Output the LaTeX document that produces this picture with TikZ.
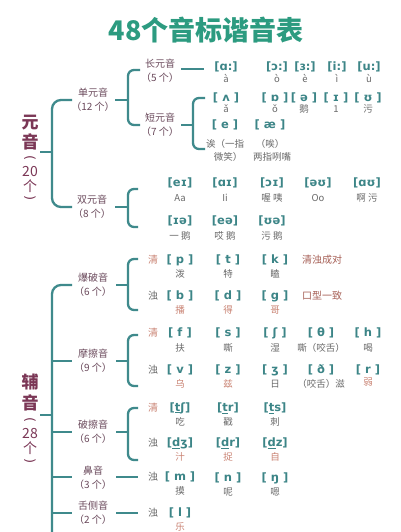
\documentclass[tikz,border=0pt]{standalone}
\usepackage{fontspec}
\setmainfont{DejaVu Sans}
\newfontfamily\cjk{Noto Sans CJK SC}
\definecolor{lineC}{HTML}{3F8A8C}
\definecolor{symC}{HTML}{3C8587}
\definecolor{labC}{HTML}{6B4A5C}
\definecolor{bigC}{HTML}{7B3756}
\definecolor{grayC}{HTML}{6A6A6A}
\definecolor{salC}{HTML}{C98272}
\definecolor{brC}{HTML}{A65F55}
\definecolor{titleC}{HTML}{2C9B80}
\tikzset{
  br/.style={draw=lineC, line width=2.3pt, rounded corners=6pt},
  lab/.style={text=labC, font=\cjk\fontsize{10}{14}\selectfont, align=center, inner sep=0pt},
  sym/.style={text=symC, font=\bfseries\fontsize{11.5}{12}\selectfont, inner sep=0pt},
  subg/.style={text=grayC, font=\cjk\fontsize{9.5}{11}\selectfont, inner sep=0pt},
  subs/.style={text=salC, font=\cjk\fontsize{9.5}{11}\selectfont, inner sep=0pt},
  qing/.style={text=salC, font=\cjk\fontsize{10}{11}\selectfont, inner sep=0pt},
  zhuo/.style={text=grayC, font=\cjk\fontsize{10}{11}\selectfont, inner sep=0pt},
  note/.style={text=brC, font=\cjk\fontsize{10}{11}\selectfont, inner sep=0pt},
  big/.style={text=bigC, font=\cjk\bfseries\fontsize{17}{17}\selectfont, inner sep=0pt},
  bigs/.style={text=bigC, font=\cjk\fontsize{14}{14}\selectfont, inner sep=0pt},
  par/.style={text=bigC, font=\fontsize{13}{13}\selectfont, inner sep=0pt, rotate=-90},
  ttl/.style={text=titleC, font=\cjk\bfseries\fontsize{27}{27}\selectfont, inner sep=0pt}
}
% name, x, y, symbol, substyle, subtext, suboffset
\newcommand\ph[7]{\node[sym] (#1) at (#2,#3) {#4};
  \node[#5] (#1s) at (#2,#3+#7) {#6};}
\begin{document}
\begin{tikzpicture}[x=1pt,y=-1pt]
\useasboundingbox[fill=white] (0,0) rectangle (400,532);
\node[ttl] (title) at (206,30) {48个音标谐音表};

% ---------- vowels ----------
\node[big] (v1) at (30,123) {元};
\node[big] (v2) at (30,142) {音};
\node[par] (v3) at (30,158) {(};
\node[bigs] (v4) at (30,172) {20};
\node[bigs] (v5) at (30,186) {个};
\node[par] (v6) at (30,198) {)};
\draw[br, rounded corners=9pt] (72,100) -- (52,100) -- (52,207) -- (72,207);
\draw[br] (40,152) -- (52,152);

\node[lab] (dan) at (93,100) {单元音\\（12 个）};
\draw[br] (115,100) -- (128,100);
\draw[br] (140,70) -- (128,70) -- (128,125) -- (140,125);
\node[lab] (chang) at (160,71) {长元音\\（5 个）};
\node[lab] (duan) at (160,125) {短元音\\（7 个）};
\draw[br] (181,69) -- (204,69);
\draw[br] (181,125) -- (193,125);
\draw[br] (205,98) -- (193,98) -- (193,149) -- (205,149);

\ph{a1}{226}{67}{[ɑ:]}{subg}{à}{11}
\ph{a2}{277}{67}{[ɔ:]}{subg}{ò}{11}
\ph{a3}{305}{67}{[ɜ:]}{subg}{è}{11}
\ph{a4}{337}{67}{[i:]}{subg}{ì}{11}
\ph{a5}{369}{67}{[u:]}{subg}{ù}{11}

\ph{b1}{226}{98}{[ ʌ ]}{subg}{ǎ}{11}
\ph{b2}{275}{98}{[ ɒ ]}{subg}{ǒ}{11}
\ph{b3}{304}{98}{[ ə ]}{subg}{鹅}{11}
\ph{b4}{336}{98}{[ ɪ ]}{subg}{1}{11}
\ph{b5}{368}{98}{[ ʊ ]}{subg}{污}{11}

\ph{c1}{225}{125}{[ e ]}{subg}{诶（一指}{19}
\node[subg] (c1t) at (228,157) {微笑）};
\ph{c2}{270}{125}{[ æ ]}{subg}{（唉）}{19}
\node[subg] (c2t) at (272,157) {两指咧嘴};

\node[lab] (shuang) at (92,207) {双元音\\（8 个）};
\draw[br] (115,207) -- (128,207);
\draw[br] (138,189) -- (128,189) -- (128,227) -- (138,227);
\ph{d1}{180}{183}{[eɪ]}{subg}{Aa}{15}
\ph{d2}{225}{183}{[ɑɪ]}{subg}{Ii}{15}
\ph{d3}{272}{183}{[ɔɪ]}{subg}{喔 咦}{15}
\ph{d4}{318}{183}{[əʊ]}{subg}{Oo}{15}
\ph{d5}{367}{183}{[ɑʊ]}{subg}{啊 污}{15}
\ph{e1}{180}{221}{[ɪə]}{subg}{一 鹅}{15}
\ph{e2}{225}{221}{[eə]}{subg}{哎 鹅}{15}
\ph{e3}{272}{221}{[ʊə]}{subg}{污 鹅}{15}

% ---------- consonants ----------
\node[big] (f1) at (30,382) {辅};
\node[big] (f2) at (30,403) {音};
\node[par] (f3) at (30,420) {(};
\node[bigs] (f4) at (30,434) {28};
\node[bigs] (f5) at (30,448) {个};
\node[par] (f6) at (30,461) {)};
\draw[br, rounded corners=9pt] (72,285) -- (52,285) -- (52,540);
\draw[br] (40,415) -- (52,415);
\draw[br] (52,361) -- (72,361);
\draw[br] (52,432) -- (72,432);
\draw[br] (52,477) -- (72,477);
\draw[br] (52,513) -- (72,513);

\node[lab] (baopo) at (93,285) {爆破音\\（6 个）};
\node[lab] (moca) at (93,361) {摩擦音\\（9 个）};
\node[lab] (poca) at (93,432) {破擦音\\（6 个）};
\node[lab] (bi) at (93,478) {鼻音\\（3 个）};
\node[lab] (she) at (93,513) {舌侧音\\（2 个）};

\draw[br] (116,285) -- (128,285);
\draw[br] (138,259) -- (128,259) -- (128,310) -- (138,310);
\draw[br] (116,361) -- (128,361);
\draw[br] (138,335) -- (128,335) -- (128,386) -- (138,386);
\draw[br] (116,432) -- (128,432);
\draw[br] (138,408) -- (128,408) -- (128,460) -- (138,460);
\draw[br] (116,477) -- (138,477);
\draw[br] (116,513) -- (138,513);

% plosives
\node[qing] (q1) at (153,260) {清};
\node[zhuo] (z1) at (153,296) {浊};
\ph{p1}{180}{260}{[ p ]}{subg}{泼}{14}
\ph{p2}{228}{260}{[ t ]}{subg}{特}{14}
\ph{p3}{275}{260}{[ k ]}{subg}{瞌}{14}
\node[note] (n1) at (322,260) {清浊成对};
\ph{p4}{180}{296}{[ b ]}{subs}{播}{14}
\ph{p5}{228}{296}{[ d ]}{subs}{得}{14}
\ph{p6}{275}{296}{[ g ]}{subs}{哥}{14}
\node[note] (n2) at (322,296) {口型一致};

% fricatives
\node[qing] (q2) at (153,333) {清};
\node[zhuo] (z2) at (153,370) {浊};
\ph{m1}{180}{333}{[ f ]}{subg}{扶}{15}
\ph{m2}{228}{333}{[ s ]}{subg}{嘶}{15}
\ph{m3}{275}{333}{[ ʃ ]}{subg}{湿}{15}
\ph{m4}{321}{333}{[ θ ]}{subg}{嘶（咬舌）}{15}
\ph{m5}{368}{333}{[ h ]}{subg}{喝}{15}
\ph{m6}{180}{370}{[ v ]}{subs}{乌}{14}
\ph{m7}{228}{370}{[ z ]}{subs}{兹}{14}
\ph{m8}{275}{370}{[ ʒ ]}{subg}{日}{14}
\ph{m9}{321}{370}{[ ð ]}{subg}{（咬舌）滋}{14}
\ph{m10}{368}{370}{[ r ]}{subs}{弱}{12}

% affricates
\node[qing] (q3) at (153,408) {清};
\node[zhuo] (z3) at (153,443) {浊};
\ph{k1}{180}{408}{[\underline{t}ʃ]}{subg}{吃}{14}
\ph{k2}{228}{408}{[\underline{t}r]}{subg}{戳}{14}
\ph{k3}{275}{408}{[\underline{t}s]}{subg}{刺}{14}
\ph{k4}{180}{443}{[\underline{d}ʒ]}{subs}{汁}{14}
\ph{k5}{228}{443}{[\underline{d}r]}{subs}{捉}{14}
\ph{k6}{275}{443}{[\underline{d}z]}{subs}{自}{14}

% nasals
\node[zhuo] (z4) at (153,477) {浊};
\ph{s1}{180}{477}{[ m ]}{subg}{摸}{14}
\ph{s2}{228}{478}{[ n ]}{subg}{呢}{14}
\ph{s3}{275}{478}{[ ŋ ]}{subg}{嗯}{14}

% lateral
\node[zhuo] (z5) at (153,513) {浊};
\ph{l1}{180}{513}{[ l ]}{subs}{乐}{14}
\end{tikzpicture}
\end{document}
